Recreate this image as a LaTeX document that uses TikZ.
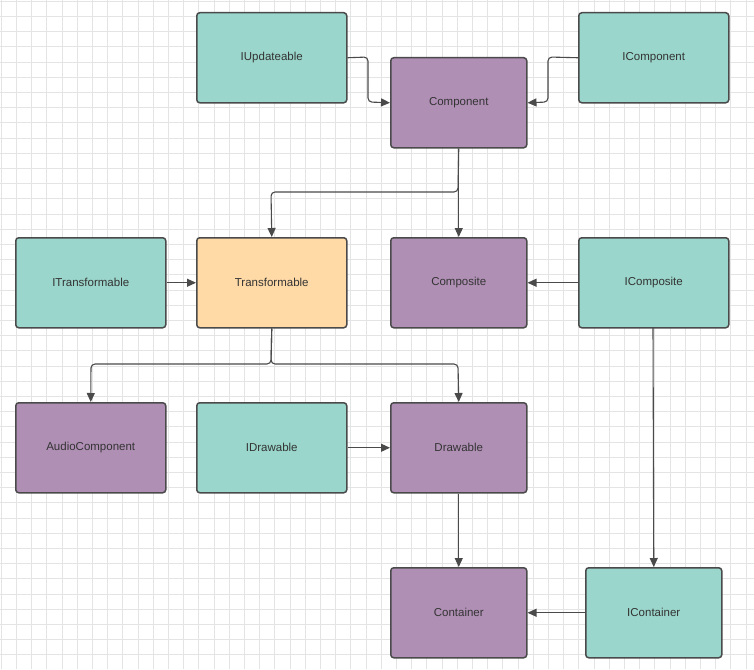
\documentclass[tikz,border=0pt]{standalone}
\usepackage{fontspec}
\setmainfont{Liberation Sans}
\usetikzlibrary{arrows.meta}
\definecolor{teal}{HTML}{9AD6CB}
\definecolor{purp}{HTML}{B08FB5}
\definecolor{oran}{HTML}{FFD9A6}
\definecolor{bord}{HTML}{4A4A4A}
\definecolor{gridc}{HTML}{E4E4E4}
\definecolor{txt}{HTML}{333333}
\begin{document}
\begin{tikzpicture}[x=1pt,y=-1pt,
  box/.style={draw=bord,line width=1.5pt,rounded corners=3pt,minimum width=#1,minimum height=90pt,inner sep=0pt,font=\fontsize{11.5}{13}\selectfont,text=txt,anchor=north west},
  box/.default=150pt,
  conn/.style={draw=bord,line width=1.1pt,rounded corners=4pt,-{Triangle[length=9pt,width=8pt]}}]
\fill[white] (0,0) rectangle (754,669);
\useasboundingbox (0,0) rectangle (754,669);
\foreach \i in {0,...,50} {\draw[gridc,line width=0.6pt] (1+15.2*\i,0) -- (1+15.2*\i,669);}
\foreach \i in {0,...,44} {\draw[gridc,line width=0.6pt] (0,1+15.2*\i) -- (754,1+15.2*\i);}
\node[box,fill=teal] (iupd) at (196,12) {IUpdateable};
\node[box,fill=teal] (icomp) at (578,12) {IComponent};
\node[box=136pt,fill=purp] (comp) at (390,57) {Component};
\node[box,fill=teal] (itr) at (15,237) {ITransformable};
\node[box,fill=oran] (tr) at (196,237) {Transformable};
\node[box=136pt,fill=purp] (cmps) at (390,237) {Composite};
\node[box,fill=teal] (icmps) at (578,237) {IComposite};
\node[box,fill=purp] (audio) at (15,402) {AudioComponent};
\node[box,fill=teal] (idr) at (196,402) {IDrawable};
\node[box=136pt,fill=purp] (dr) at (390,402) {Drawable};
\node[box=136pt,fill=purp] (cont) at (390,567) {Container};
\node[box=136pt,fill=teal] (icont) at (585,567) {IContainer};
\draw[conn] (iupd.east) -- (368,57) -- (368,102) -- (comp.west);
\draw[conn] (icomp.west) -- (548,57) -- (548,102) -- (comp.east);
\draw[conn] (comp.south) -- (458,192) -- (271,192) -- (tr.north);
\draw[conn] (comp.south) -- (cmps.north);
\draw[conn] (itr) -- (tr);
\draw[conn] (icmps) -- (cmps);
\draw[conn] (tr.south) -- (271,364) -- (91,364) -- (audio.north);
\draw[conn] (tr.south) -- (271,364) -- (458,364) -- (dr.north);
\draw[conn] (idr) -- (dr);
\draw[conn] (dr) -- (cont);
\draw[conn] (653,327) -- (icont.north);
\draw[conn] (icont) -- (cont);
\end{tikzpicture}
\end{document}
